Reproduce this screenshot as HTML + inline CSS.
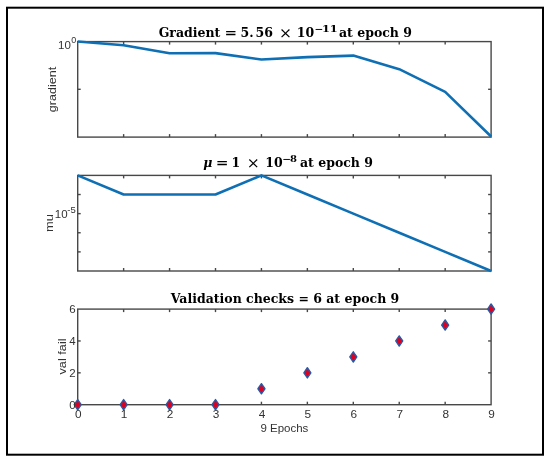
<!DOCTYPE html><html><head><meta charset="utf-8"><style>html,body{margin:0;padding:0;background:#fff;}svg{display:block;}</style></head><body>
<svg width="550" height="463" viewBox="0 0 550 463">
<rect x="0" y="0" width="550" height="463" fill="#fff"/>
<rect x="7" y="7.7" width="536" height="447" fill="none" stroke="#000" stroke-width="2"/>
<g stroke="#484848" stroke-width="1.4" fill="none">
<rect x="77.7" y="41.6" width="413.40" height="95.50"/>
<line x1="123.63" y1="41.6" x2="123.63" y2="44.6"/>
<line x1="123.63" y1="137.1" x2="123.63" y2="134.1"/>
<line x1="169.57" y1="41.6" x2="169.57" y2="44.6"/>
<line x1="169.57" y1="137.1" x2="169.57" y2="134.1"/>
<line x1="215.50" y1="41.6" x2="215.50" y2="44.6"/>
<line x1="215.50" y1="137.1" x2="215.50" y2="134.1"/>
<line x1="261.43" y1="41.6" x2="261.43" y2="44.6"/>
<line x1="261.43" y1="137.1" x2="261.43" y2="134.1"/>
<line x1="307.37" y1="41.6" x2="307.37" y2="44.6"/>
<line x1="307.37" y1="137.1" x2="307.37" y2="134.1"/>
<line x1="353.30" y1="41.6" x2="353.30" y2="44.6"/>
<line x1="353.30" y1="137.1" x2="353.30" y2="134.1"/>
<line x1="399.23" y1="41.6" x2="399.23" y2="44.6"/>
<line x1="399.23" y1="137.1" x2="399.23" y2="134.1"/>
<line x1="445.17" y1="41.6" x2="445.17" y2="44.6"/>
<line x1="445.17" y1="137.1" x2="445.17" y2="134.1"/>
</g>
<g stroke="#484848" stroke-width="1.4" fill="none">
<rect x="77.7" y="175.4" width="413.40" height="95.60"/>
<line x1="123.63" y1="175.4" x2="123.63" y2="178.4"/>
<line x1="123.63" y1="271.0" x2="123.63" y2="268.0"/>
<line x1="169.57" y1="175.4" x2="169.57" y2="178.4"/>
<line x1="169.57" y1="271.0" x2="169.57" y2="268.0"/>
<line x1="215.50" y1="175.4" x2="215.50" y2="178.4"/>
<line x1="215.50" y1="271.0" x2="215.50" y2="268.0"/>
<line x1="261.43" y1="175.4" x2="261.43" y2="178.4"/>
<line x1="261.43" y1="271.0" x2="261.43" y2="268.0"/>
<line x1="307.37" y1="175.4" x2="307.37" y2="178.4"/>
<line x1="307.37" y1="271.0" x2="307.37" y2="268.0"/>
<line x1="353.30" y1="175.4" x2="353.30" y2="178.4"/>
<line x1="353.30" y1="271.0" x2="353.30" y2="268.0"/>
<line x1="399.23" y1="175.4" x2="399.23" y2="178.4"/>
<line x1="399.23" y1="271.0" x2="399.23" y2="268.0"/>
<line x1="445.17" y1="175.4" x2="445.17" y2="178.4"/>
<line x1="445.17" y1="271.0" x2="445.17" y2="268.0"/>
</g>
<g stroke="#484848" stroke-width="1.4" fill="none">
<rect x="77.7" y="309.1" width="413.40" height="95.60"/>
<line x1="123.63" y1="309.1" x2="123.63" y2="312.1"/>
<line x1="123.63" y1="404.7" x2="123.63" y2="401.7"/>
<line x1="169.57" y1="309.1" x2="169.57" y2="312.1"/>
<line x1="169.57" y1="404.7" x2="169.57" y2="401.7"/>
<line x1="215.50" y1="309.1" x2="215.50" y2="312.1"/>
<line x1="215.50" y1="404.7" x2="215.50" y2="401.7"/>
<line x1="261.43" y1="309.1" x2="261.43" y2="312.1"/>
<line x1="261.43" y1="404.7" x2="261.43" y2="401.7"/>
<line x1="307.37" y1="309.1" x2="307.37" y2="312.1"/>
<line x1="307.37" y1="404.7" x2="307.37" y2="401.7"/>
<line x1="353.30" y1="309.1" x2="353.30" y2="312.1"/>
<line x1="353.30" y1="404.7" x2="353.30" y2="401.7"/>
<line x1="399.23" y1="309.1" x2="399.23" y2="312.1"/>
<line x1="399.23" y1="404.7" x2="399.23" y2="401.7"/>
<line x1="445.17" y1="309.1" x2="445.17" y2="312.1"/>
<line x1="445.17" y1="404.7" x2="445.17" y2="401.7"/>
</g>
<g stroke="#484848" stroke-width="1.4">
<line x1="77.7" y1="89.30" x2="80.7" y2="89.30"/>
<line x1="491.1" y1="89.30" x2="488.1" y2="89.30"/>
</g>
<g stroke="#484848" stroke-width="1.4">
<line x1="77.7" y1="194.52" x2="80.7" y2="194.52"/>
<line x1="491.1" y1="194.52" x2="488.1" y2="194.52"/>
<line x1="77.7" y1="213.64" x2="80.7" y2="213.64"/>
<line x1="491.1" y1="213.64" x2="488.1" y2="213.64"/>
<line x1="77.7" y1="232.76" x2="80.7" y2="232.76"/>
<line x1="491.1" y1="232.76" x2="488.1" y2="232.76"/>
<line x1="77.7" y1="251.88" x2="80.7" y2="251.88"/>
<line x1="491.1" y1="251.88" x2="488.1" y2="251.88"/>
</g>
<g stroke="#484848" stroke-width="1.4">
<line x1="77.7" y1="372.83" x2="80.7" y2="372.83"/>
<line x1="491.1" y1="372.83" x2="488.1" y2="372.83"/>
<line x1="77.7" y1="340.97" x2="80.7" y2="340.97"/>
<line x1="491.1" y1="340.97" x2="488.1" y2="340.97"/>
</g>
<polyline points="77.70,41.5 123.63,45.2 169.57,53.3 215.50,53.1 261.43,59.5 307.37,57.1 353.30,55.6 399.23,69.2 445.17,91.9 491.10,136.5" fill="none" stroke="#0e6fb4" stroke-width="2.6" stroke-linejoin="round"/>
<polyline points="77.70,175.40 123.63,194.52 169.57,194.52 215.50,194.52 261.43,175.40 307.37,194.52 353.30,213.64 399.23,232.76 445.17,251.88 491.10,271.00" fill="none" stroke="#0e6fb4" stroke-width="2.6" stroke-linejoin="round"/>
<path d="M77.70,399.60 L81.20,404.70 L77.70,409.80 L74.20,404.70 Z" fill="#e0001e" stroke="#2a5aa5" stroke-width="1.4" stroke-linejoin="round"/>
<path d="M123.63,399.60 L127.13,404.70 L123.63,409.80 L120.13,404.70 Z" fill="#e0001e" stroke="#2a5aa5" stroke-width="1.4" stroke-linejoin="round"/>
<path d="M169.57,399.60 L173.07,404.70 L169.57,409.80 L166.07,404.70 Z" fill="#e0001e" stroke="#2a5aa5" stroke-width="1.4" stroke-linejoin="round"/>
<path d="M215.50,399.60 L219.00,404.70 L215.50,409.80 L212.00,404.70 Z" fill="#e0001e" stroke="#2a5aa5" stroke-width="1.4" stroke-linejoin="round"/>
<path d="M261.43,383.67 L264.93,388.77 L261.43,393.87 L257.93,388.77 Z" fill="#e0001e" stroke="#2a5aa5" stroke-width="1.4" stroke-linejoin="round"/>
<path d="M307.37,367.73 L310.87,372.83 L307.37,377.93 L303.87,372.83 Z" fill="#e0001e" stroke="#2a5aa5" stroke-width="1.4" stroke-linejoin="round"/>
<path d="M353.30,351.80 L356.80,356.90 L353.30,362.00 L349.80,356.90 Z" fill="#e0001e" stroke="#2a5aa5" stroke-width="1.4" stroke-linejoin="round"/>
<path d="M399.23,335.87 L402.73,340.97 L399.23,346.07 L395.73,340.97 Z" fill="#e0001e" stroke="#2a5aa5" stroke-width="1.4" stroke-linejoin="round"/>
<path d="M445.17,319.93 L448.67,325.03 L445.17,330.13 L441.67,325.03 Z" fill="#e0001e" stroke="#2a5aa5" stroke-width="1.4" stroke-linejoin="round"/>
<path d="M491.10,304.00 L494.60,309.10 L491.10,314.20 L487.60,309.10 Z" fill="#e0001e" stroke="#2a5aa5" stroke-width="1.4" stroke-linejoin="round"/>
<g font-family="'Liberation Sans', Arial, sans-serif" font-size="11.5" fill="#333">
<text x="78.20" y="417.9" text-anchor="middle" font-size="11.8">0</text>
<text x="124.13" y="417.9" text-anchor="middle" font-size="11.8">1</text>
<text x="170.07" y="417.9" text-anchor="middle" font-size="11.8">2</text>
<text x="216.00" y="417.9" text-anchor="middle" font-size="11.8">3</text>
<text x="261.93" y="417.9" text-anchor="middle" font-size="11.8">4</text>
<text x="307.87" y="417.9" text-anchor="middle" font-size="11.8">5</text>
<text x="353.80" y="417.9" text-anchor="middle" font-size="11.8">6</text>
<text x="399.73" y="417.9" text-anchor="middle" font-size="11.8">7</text>
<text x="445.67" y="417.9" text-anchor="middle" font-size="11.8">8</text>
<text x="491.60" y="417.9" text-anchor="middle" font-size="11.8">9</text>
<text x="75.6" y="408.80" text-anchor="end">0</text>
<text x="75.6" y="376.93" text-anchor="end">2</text>
<text x="75.6" y="345.07" text-anchor="end">4</text>
<text x="75.6" y="313.20" text-anchor="end">6</text>
<text x="70.8" y="48.6" text-anchor="end">10</text>
<text x="71.3" y="42.9" font-size="9">0</text>
<text x="67.6" y="218.3" text-anchor="end">10</text>
<text x="67.3" y="212.9" font-size="9.5">-5</text>
<text x="284.40" y="432.3" text-anchor="middle">9 Epochs</text>
<text transform="translate(55.6,89.5) rotate(-90) scale(1.16,1)" text-anchor="middle" font-size="10.8">gradient</text>
<text transform="translate(53.2,223.1) rotate(-90) scale(1.12,1)" text-anchor="middle">mu</text>
<text transform="translate(66.2,356.5) rotate(-90) scale(1.11,1)" text-anchor="middle">val fail</text>
</g>
<g font-family="'DejaVu Serif', serif" font-weight="bold" font-size="12.5" fill="#000">
<text x="158.7" y="36.6">Gradient</text>
<text transform="translate(224.6,36.6) scale(1.2,1)">=</text>
<text x="240.6" y="36.6">5.</text>
<text x="255.5" y="36.6">56</text>
<text x="278.9" y="37.9" font-weight="normal" font-size="15.5">×</text>
<text x="296.8" y="36.6">10</text>
<text transform="translate(314.6,31.6) scale(1.2,1)" font-size="8.75">−</text>
<text transform="translate(321.9,31.6) scale(1.3,1)" font-size="8.75">11</text>
<text x="339" y="36.6">at epoch 9</text>
<text x="203.3" y="167.1" font-style="italic">μ</text>
<text transform="translate(215.8,167.1) scale(1.22,1)">=</text>
<text x="231.6" y="167.1">1</text>
<text x="246.8" y="167.9" font-weight="normal" font-size="15.5">×</text>
<text x="265.2" y="167.1">10</text>
<text transform="translate(282.3,161.6) scale(1.2,1)" font-size="8.75">−</text>
<text transform="translate(289.9,161.6) scale(1.15,1)" font-size="8.75">8</text>
<text x="300" y="167.1">at epoch 9</text>
<text x="170.8" y="302.6">Validation checks = 6 at epoch 9</text>
</g>
</svg></body></html>
